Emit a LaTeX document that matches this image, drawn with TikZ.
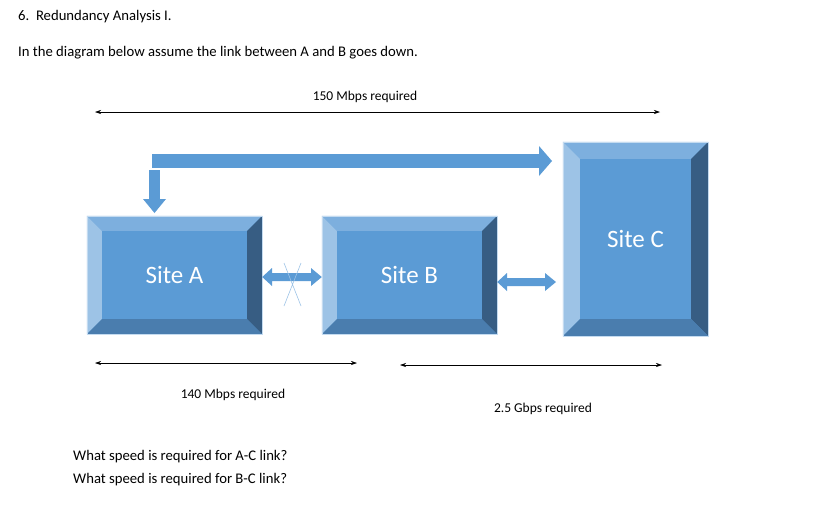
\documentclass[tikz,border=0pt]{standalone}
\usepackage{fontspec}
\setmainfont{Carlito}
\usetikzlibrary{calc,arrows.meta}
\definecolor{bmain}{HTML}{5B9BD5}
\definecolor{btop}{HTML}{7DAFDE}
\definecolor{bleft}{HTML}{9DC3E6}
\definecolor{bright}{HTML}{375D83}
\definecolor{bbot}{HTML}{4A7DAE}
\newcommand\bevel[2]{%
 \fill[btop] (#1.north west) -- (#1.north east) -- ($(#1.north east)+(-#2,#2)$) -- ($(#1.north west)+(#2,#2)$) -- cycle;
 \fill[bleft] (#1.north west) -- ($(#1.north west)+(#2,#2)$) -- ($(#1.south west)+(#2,-#2)$) -- (#1.south west) -- cycle;
 \fill[bright] (#1.north east) -- ($(#1.north east)+(-#2,#2)$) -- ($(#1.south east)+(-#2,-#2)$) -- (#1.south east) -- cycle;
 \fill[bbot] (#1.south west) -- ($(#1.south west)+(#2,-#2)$) -- ($(#1.south east)+(-#2,-#2)$) -- (#1.south east) -- cycle;
 \draw[bleft!60!white,line width=0.5] (#1.north west) rectangle (#1.south east);}
\tikzset{
 site/.style={fill=bmain,inner sep=0,text=white,font=\fontsize{25}{28}\selectfont},
 txt/.style={anchor=west,inner sep=0,font=\fontsize{14.7}{16}\selectfont},
 lab/.style={inner sep=0,font=\fontsize{13.5}{15}\selectfont},
 dim/.style={{Stealth[length=6,width=4]}-{Stealth[length=6,width=4]},line width=0.6},
 fat/.style={draw=bmain,fill=bmain,line width=0.5}
}
\begin{document}
\begin{tikzpicture}[x=1pt,y=-1pt]
\useasboundingbox (0,0) rectangle (835,512);
\node[txt] (t1) at (18,17) {6.\ \ Redundancy Analysis I.};
\node[txt] (t2) at (18,53) {In the diagram below assume the link between A and B goes down.};
% boxes
\node[site,minimum width=175,minimum height=118] (A) at (174.5,275) {};
\bevel{A}{15}
\node[site] (Al) at (A) {Site A};
\node[site,minimum width=175,minimum height=118] (B) at (409.5,275) {};
\bevel{B}{15}
\node[site] (Bl) at (B) {Site B};
\node[site,minimum width=145,minimum height=194] (C) at (635.5,239) {};
\bevel{C}{17}
\node[site] (Cl) at ($(C)+(0,0)$) {Site C};
% top arrow
\coordinate (p1) at (152,154);
\fill[bmain] (152,154) rectangle (539,168);
\fill[bmain] (539,146) -- (552,161) -- (539,176) -- cycle;
% down arrow
\fill[bmain] (149,170) rectangle (160,199);
\fill[bmain] (143,199) -- (166,199) -- (154.5,213) -- cycle;
% double arrows
\fill[bmain] (A.east|-0,277) -- (272,268) -- (272,273) -- (311,273) -- (311,268) -- (B.west|-0,277) -- (311,286) -- (311,281) -- (272,281) -- (272,286) -- cycle;
\fill[bmain] (B.east|-0,282) -- (507,273) -- (507,278) -- (545,278) -- (545,273) -- (556,282) -- (545,291) -- (545,286) -- (507,286) -- (507,291) -- cycle;
% X
\draw[bleft,line width=0.6] (284,263) -- (301,306) (301,263) -- (284,306);
% dimension lines
\draw[dim] (95,112) -- (660,112);
\node[lab] (l1) at (365,97) {150 Mbps required};
\draw[dim] (95,363) -- (357,363);
\node[lab] (l2) at (233,395) {140 Mbps required};
\draw[dim] (400,365) -- (662,365);
\node[lab] (l3) at (543,409) {2.5 Gbps required};
\node[txt] (q1) at (73,457) {What speed is required for A-C link?};
\node[txt] (q2) at (73,480) {What speed is required for B-C link?};
\end{tikzpicture}
\end{document}
